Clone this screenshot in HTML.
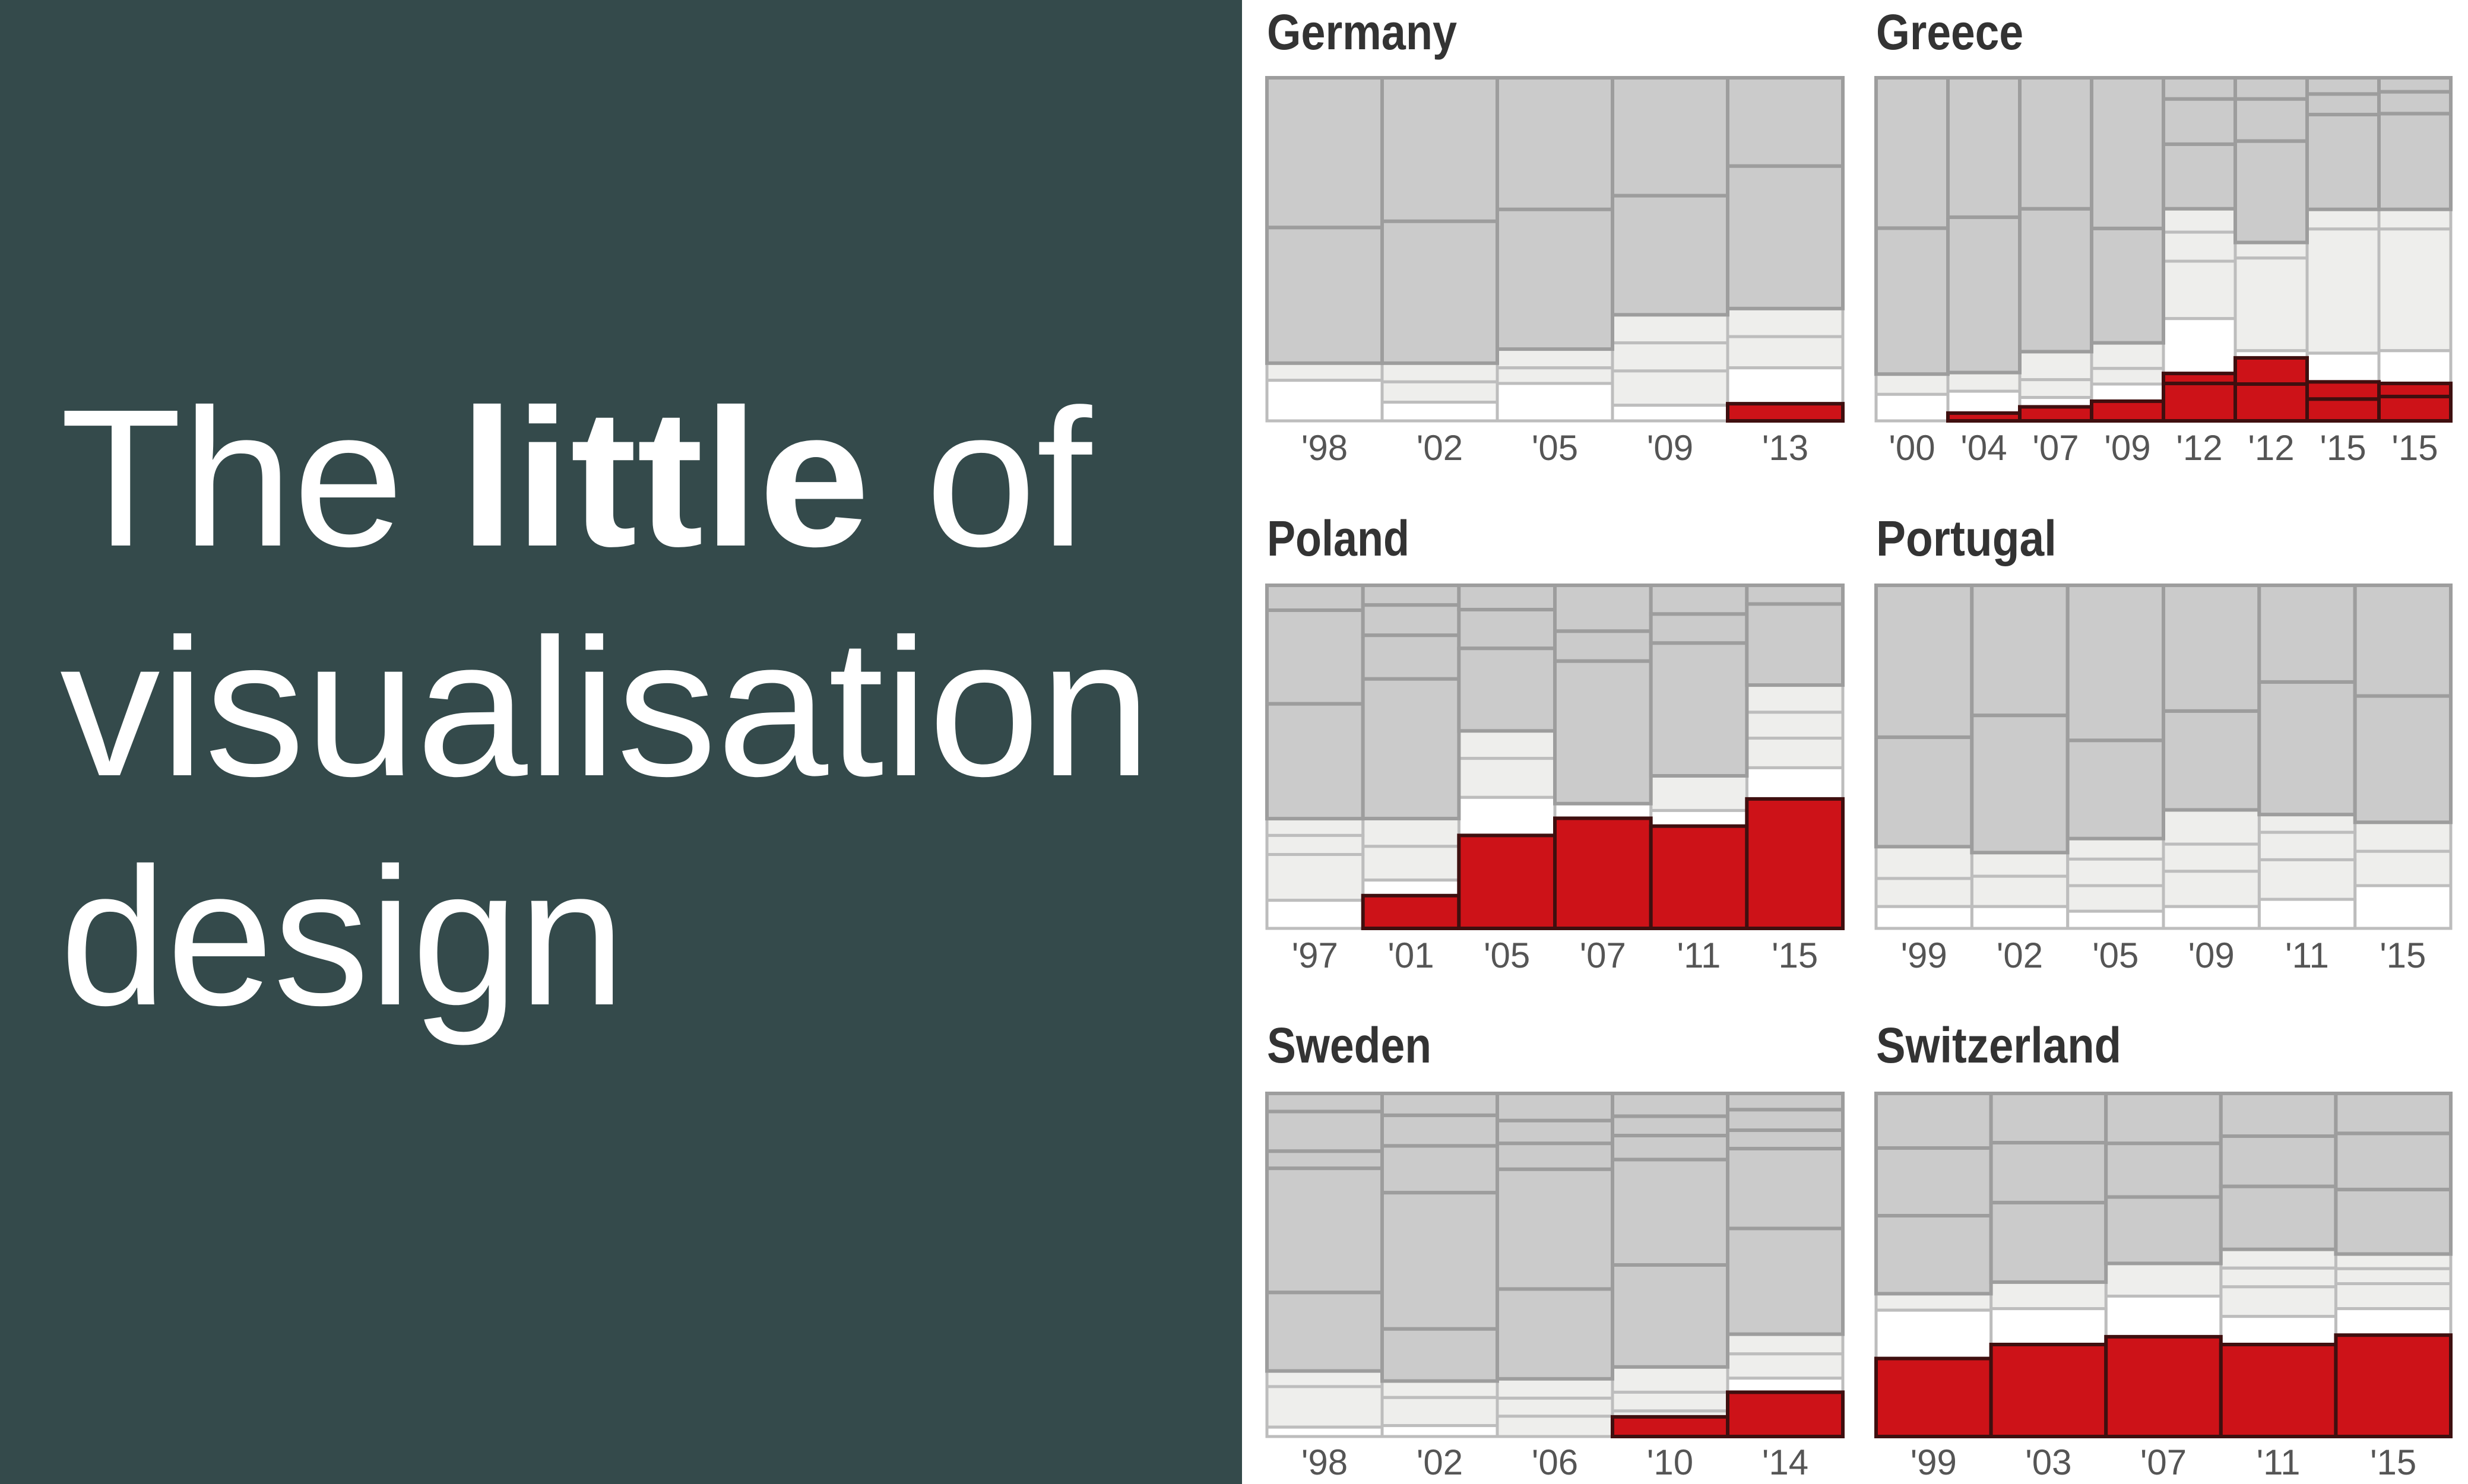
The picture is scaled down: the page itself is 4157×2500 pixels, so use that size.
<!DOCTYPE html>
<html><head><meta charset="utf-8"><style>
html,body{margin:0;padding:0;background:#fff;}
svg{display:block;}
</style></head><body>
<svg id="s" xmlns="http://www.w3.org/2000/svg" width="4157" height="2500" viewBox="0 0 4157 2500">
<rect x="0" y="0" width="4157" height="2500" fill="#fff"/>
<rect x="0" y="0" width="2092" height="2500" fill="#344a4b"/>
<g font-family="'Liberation Sans', sans-serif" fill="#fff" font-size="330">
<text x="101" y="919" textLength="1738" lengthAdjust="spacingAndGlyphs">The <tspan font-weight="bold">little</tspan> of</text>
<text x="101" y="1306" textLength="1838" lengthAdjust="spacingAndGlyphs">visualisation</text>
<text x="101" y="1692" textLength="952" lengthAdjust="spacingAndGlyphs">design</text>
</g>
<g id="charts"></g>
</svg>
<script>
var charts=[
{name:"Germany",tw:320,x0:2134,x1:3104,y0:131,y1:709,zb:1350,zt:250,ty:83,ly:775,
labels:["'98","'02","'05","'09","'13"],
cols:[
[["w",1220],["l",1165],["g",730],["g",250]],
[["w",1290],["l",1225],["l",1165],["g",710],["g",250]],
[["w",1230],["l",1180],["l",1120],["g",672],["g",250]],
[["w",1300],["l",1190],["l",1100],["l",1010],["g",628],["g",250]],
[["r",1295],["w",1180],["l",1080],["l",990],["g",533],["g",250]]]},
{name:"Greece",tw:248,x0:3160,x1:4128,y0:131,y1:709,zb:1350,zt:250,ty:83,ly:775,
labels:["'00","'04","'07","'09","'12","'12","'15","'15"],
cols:[
[["w",1265],["l",1200],["g",732],["g",250]],
[["r",1325],["w",1255],["l",1195],["g",697],["g",250]],
[["r",1305],["w",1275],["l",1218],["l",1128],["g",670],["g",250]],
[["r",1287],["w",1232],["l",1182],["l",1100],["g",733],["g",250]],
[["r",1230],["r",1198],["w",1022],["l",838],["l",745],["l",670],["g",463],["g",318],["g",250]],
[["r",1232],["r",1148],["w",1125],["l",828],["l",778],["g",453],["g",318],["g",250]],
[["r",1280],["r",1225],["w",1133],["l",735],["l",672],["g",368],["g",302],["g",250]],
[["r",1272],["r",1230],["w",1125],["l",735],["l",672],["g",365],["g",295],["g",250]]]},
{name:"Poland",tw:240,x0:2134,x1:3104,y0:986,y1:1564,zb:1355,zt:255,ty:936,ly:1630,
labels:["'97","'01","'05","'07","'11","'15"],
cols:[
[["w",1265],["l",1118],["l",1057],["l",1003],["g",635],["g",335],["g",255]],
[["r",1250],["w",1200],["l",1092],["l",1003],["g",555],["g",415],["g",318],["g",255]],
[["r",1057],["w",935],["l",810],["l",722],["g",457],["g",333],["g",255]],
[["r",1002],["w",955],["g",498],["g",402],["g",255]],
[["r",1027],["w",977],["l",866],["g",440],["g",347],["g",255]],
[["r",940],["w",840],["l",745],["l",662],["l",575],["g",315],["g",255]]]},
{name:"Portugal",tw:304,x0:3160,x1:4128,y0:986,y1:1564,zb:1355,zt:255,ty:936,ly:1630,
labels:["'99","'02","'05","'09","'11","'15"],
cols:[
[["w",1285],["l",1195],["l",1093],["g",742],["g",255]],
[["w",1285],["l",1188],["l",1112],["g",672],["g",255]],
[["w",1300],["l",1218],["l",1133],["l",1067],["g",752],["g",255]],
[["w",1285],["l",1172],["l",1085],["l",975],["g",658],["g",255]],
[["w",1262],["l",1135],["l",1047],["l",990],["g",565],["g",255]],
[["w",1218],["l",1108],["l",1015],["g",610],["g",255]]]},
{name:"Sweden",tw:277,x0:2134,x1:3104,y0:1842,y1:2420,zb:1400,zt:300,ty:1790,ly:2484,
labels:["'98","'02","'06","'10","'14"],
cols:[
[["w",1370],["l",1240],["l",1190],["g",938],["g",540],["g",485],["g",358],["g",300]],
[["w",1365],["l",1275],["l",1222],["g",1055],["g",618],["g",468],["g",370],["g",300]],
[["l",1335],["l",1277],["l",1215],["g",927],["g",543],["g",460],["g",387],["g",300]],
[["r",1337],["l",1318],["l",1258],["l",1177],["g",850],["g",512],["g",435],["g",373],["g",300]],
[["r",1258],["w",1213],["l",1135],["l",1072],["g",733],["g",477],["g",418],["g",352],["g",300]]]},
{name:"Switzerland",tw:413,x0:3160,x1:4128,y0:1842,y1:2420,zb:1400,zt:300,ty:1790,ly:2484,
labels:["'99","'03","'07","'11","'15"],
cols:[
[["r",1150],["w",995],["l",942],["g",692],["g",475],["g",300]],
[["r",1105],["w",990],["l",905],["g",650],["g",458],["g",300]],
[["r",1080],["w",950],["l",845],["g",632],["g",460],["g",300]],
[["r",1105],["w",1015],["l",920],["l",860],["l",800],["g",598],["g",437],["g",300]],
[["r",1075],["w",990],["l",910],["l",862],["l",815],["g",608],["g",428],["g",300]]]}
];
var fill={g:"#cbcbcb",l:"#eeeeec",w:"#ffffff",r:"#cd1218"};
var stroke={g:"#9d9d9d",l:"#bdbdbd",w:"#bdbdbd",r:"#3f0f0f"};
var sw={g:6,l:5,w:5,r:6};
var out=[];
charts.forEach(function(c){
  var n=c.cols.length,cw=(c.x1-c.x0)/n,h=c.y1-c.y0;
  function Y(z){return c.y0+(z-c.zt)/(c.zb-c.zt)*h;}
  out.push('<text x="'+c.x0+'" y="'+c.ty+'" textLength="'+c.tw+'" lengthAdjust="spacingAndGlyphs" font-family="\'Liberation Sans Narrow\',\'Liberation Sans\',sans-serif" font-weight="bold" font-size="84" fill="#333">'+c.name+'</text>');
  var reds=[],others=[];
  c.cols.forEach(function(col,i){
    var x=c.x0+i*cw,prev=c.zb;
    col.forEach(function(s){
      var yt=Y(s[1]),yb=Y(prev);
      var r='<rect x="'+x.toFixed(1)+'" y="'+yt.toFixed(1)+'" width="'+cw.toFixed(1)+'" height="'+(yb-yt).toFixed(1)+'" fill="'+fill[s[0]]+'" stroke="'+stroke[s[0]]+'" stroke-width="'+sw[s[0]]+'"/>';
      if(s[0]=="r")reds.push(r);else if(s[0]=="g")others.push(r);else others.unshift(r);
      prev=s[1];
    });
    out.push('<text x="'+(x+cw/2).toFixed(1)+'" y="'+c.ly+'" text-anchor="middle" font-family="\'Liberation Sans Narrow\',\'Liberation Sans\',sans-serif" font-size="60" fill="#555">'+c.labels[i]+'</text>');
  });
  out=out.concat(others,reds);
});
document.getElementById("charts").innerHTML=out.join("");
</script>
</body></html>
